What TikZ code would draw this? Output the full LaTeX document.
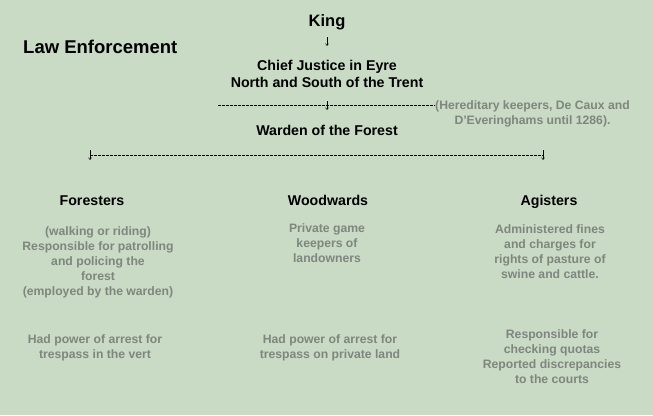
\documentclass[tikz,border=0pt]{standalone}
\usepackage{fontspec}
\setmainfont{Liberation Sans}
\usetikzlibrary{arrows.meta}
\definecolor{bgsage}{RGB}{201,218,197}
\definecolor{txtgray}{RGB}{126,134,126}
\begin{document}
\begin{tikzpicture}[x=1pt,y=-1pt,
  title/.style={font=\fontsize{18.5}{22}\selectfont\bfseries},
  head/.style={font=\fontsize{14.2}{17}\selectfont\bfseries, align=center, inner sep=0pt},
  kinghead/.style={font=\fontsize{16.5}{19}\selectfont\bfseries, align=center, inner sep=0pt},
  note/.style={font=\fontsize{12.2}{15}\selectfont\bfseries, text=txtgray, align=center, inner sep=0pt},
  dashline/.style={draw=black, line width=0.5pt, dash pattern=on 3pt off 1pt},
  smallarrow/.style={draw=black, line width=0.5pt, -{Straight Barb[length=2pt,width=3pt]}}]
\fill[bgsage] (0,0) rectangle (653,415);
\useasboundingbox (0,0) rectangle (653,415);
\node[title, anchor=west, inner sep=0pt] (law) at (23,47) {Law Enforcement};
\node[kinghead] (king) at (327,22) {King};
\node[head] (chief) at (327,73.5) {Chief Justice in Eyre\\North and South of the Trent};
\node[note, anchor=west] (hered) at (435,113.5) {(Hereditary keepers, De Caux and\\D’Everinghams until 1286).};
\node[head] (warden) at (327,130) {Warden of the Forest};
\coordinate (d1) at (218,105);
\coordinate (dmid) at (327,105);
\coordinate (l2) at (90,155);
\coordinate (r2) at (543,155);
\draw[smallarrow] (king) ++(0,15) -- ++(0,9);
\draw[dashline] (d1) -- (hered.west |- d1);
\draw[smallarrow] (dmid) ++(0,-4) -- ++(0,9);
\draw[dashline] (l2) -- (r2);
\draw[smallarrow] (l2) ++(0,-5) -- ++(0,10);
\draw[smallarrow] (r2) ++(0,-5) -- ++(0,10);
\node[head, anchor=base] (forest) at (92,205) {Foresters};
\node[head, anchor=base] (wood) at (328,205) {Woodwards};
\node[head, anchor=base] (agist) at (549,205) {Agisters};
\node[note] (forestd) at (98,262) {(walking or riding)\\Responsible for patrolling\\and policing the\\forest\\(employed by the warden)};
\node[note] (woodd) at (327,243) {Private game\\keepers of\\landowners};
\node[note] (agistd) at (550,251.5) {Administered fines\\and charges for\\rights of pasture of\\swine and cattle.};
\node[note] (foresta) at (95,347.5) {Had power of arrest for\\trespass in the vert};
\node[note] (wooda) at (330,347.5) {Had power of arrest for\\trespass on private land};
\node[note] (agista) at (552,356.5) {Responsible for\\checking quotas\\Reported discrepancies\\to the courts};
\end{tikzpicture}
\end{document}
